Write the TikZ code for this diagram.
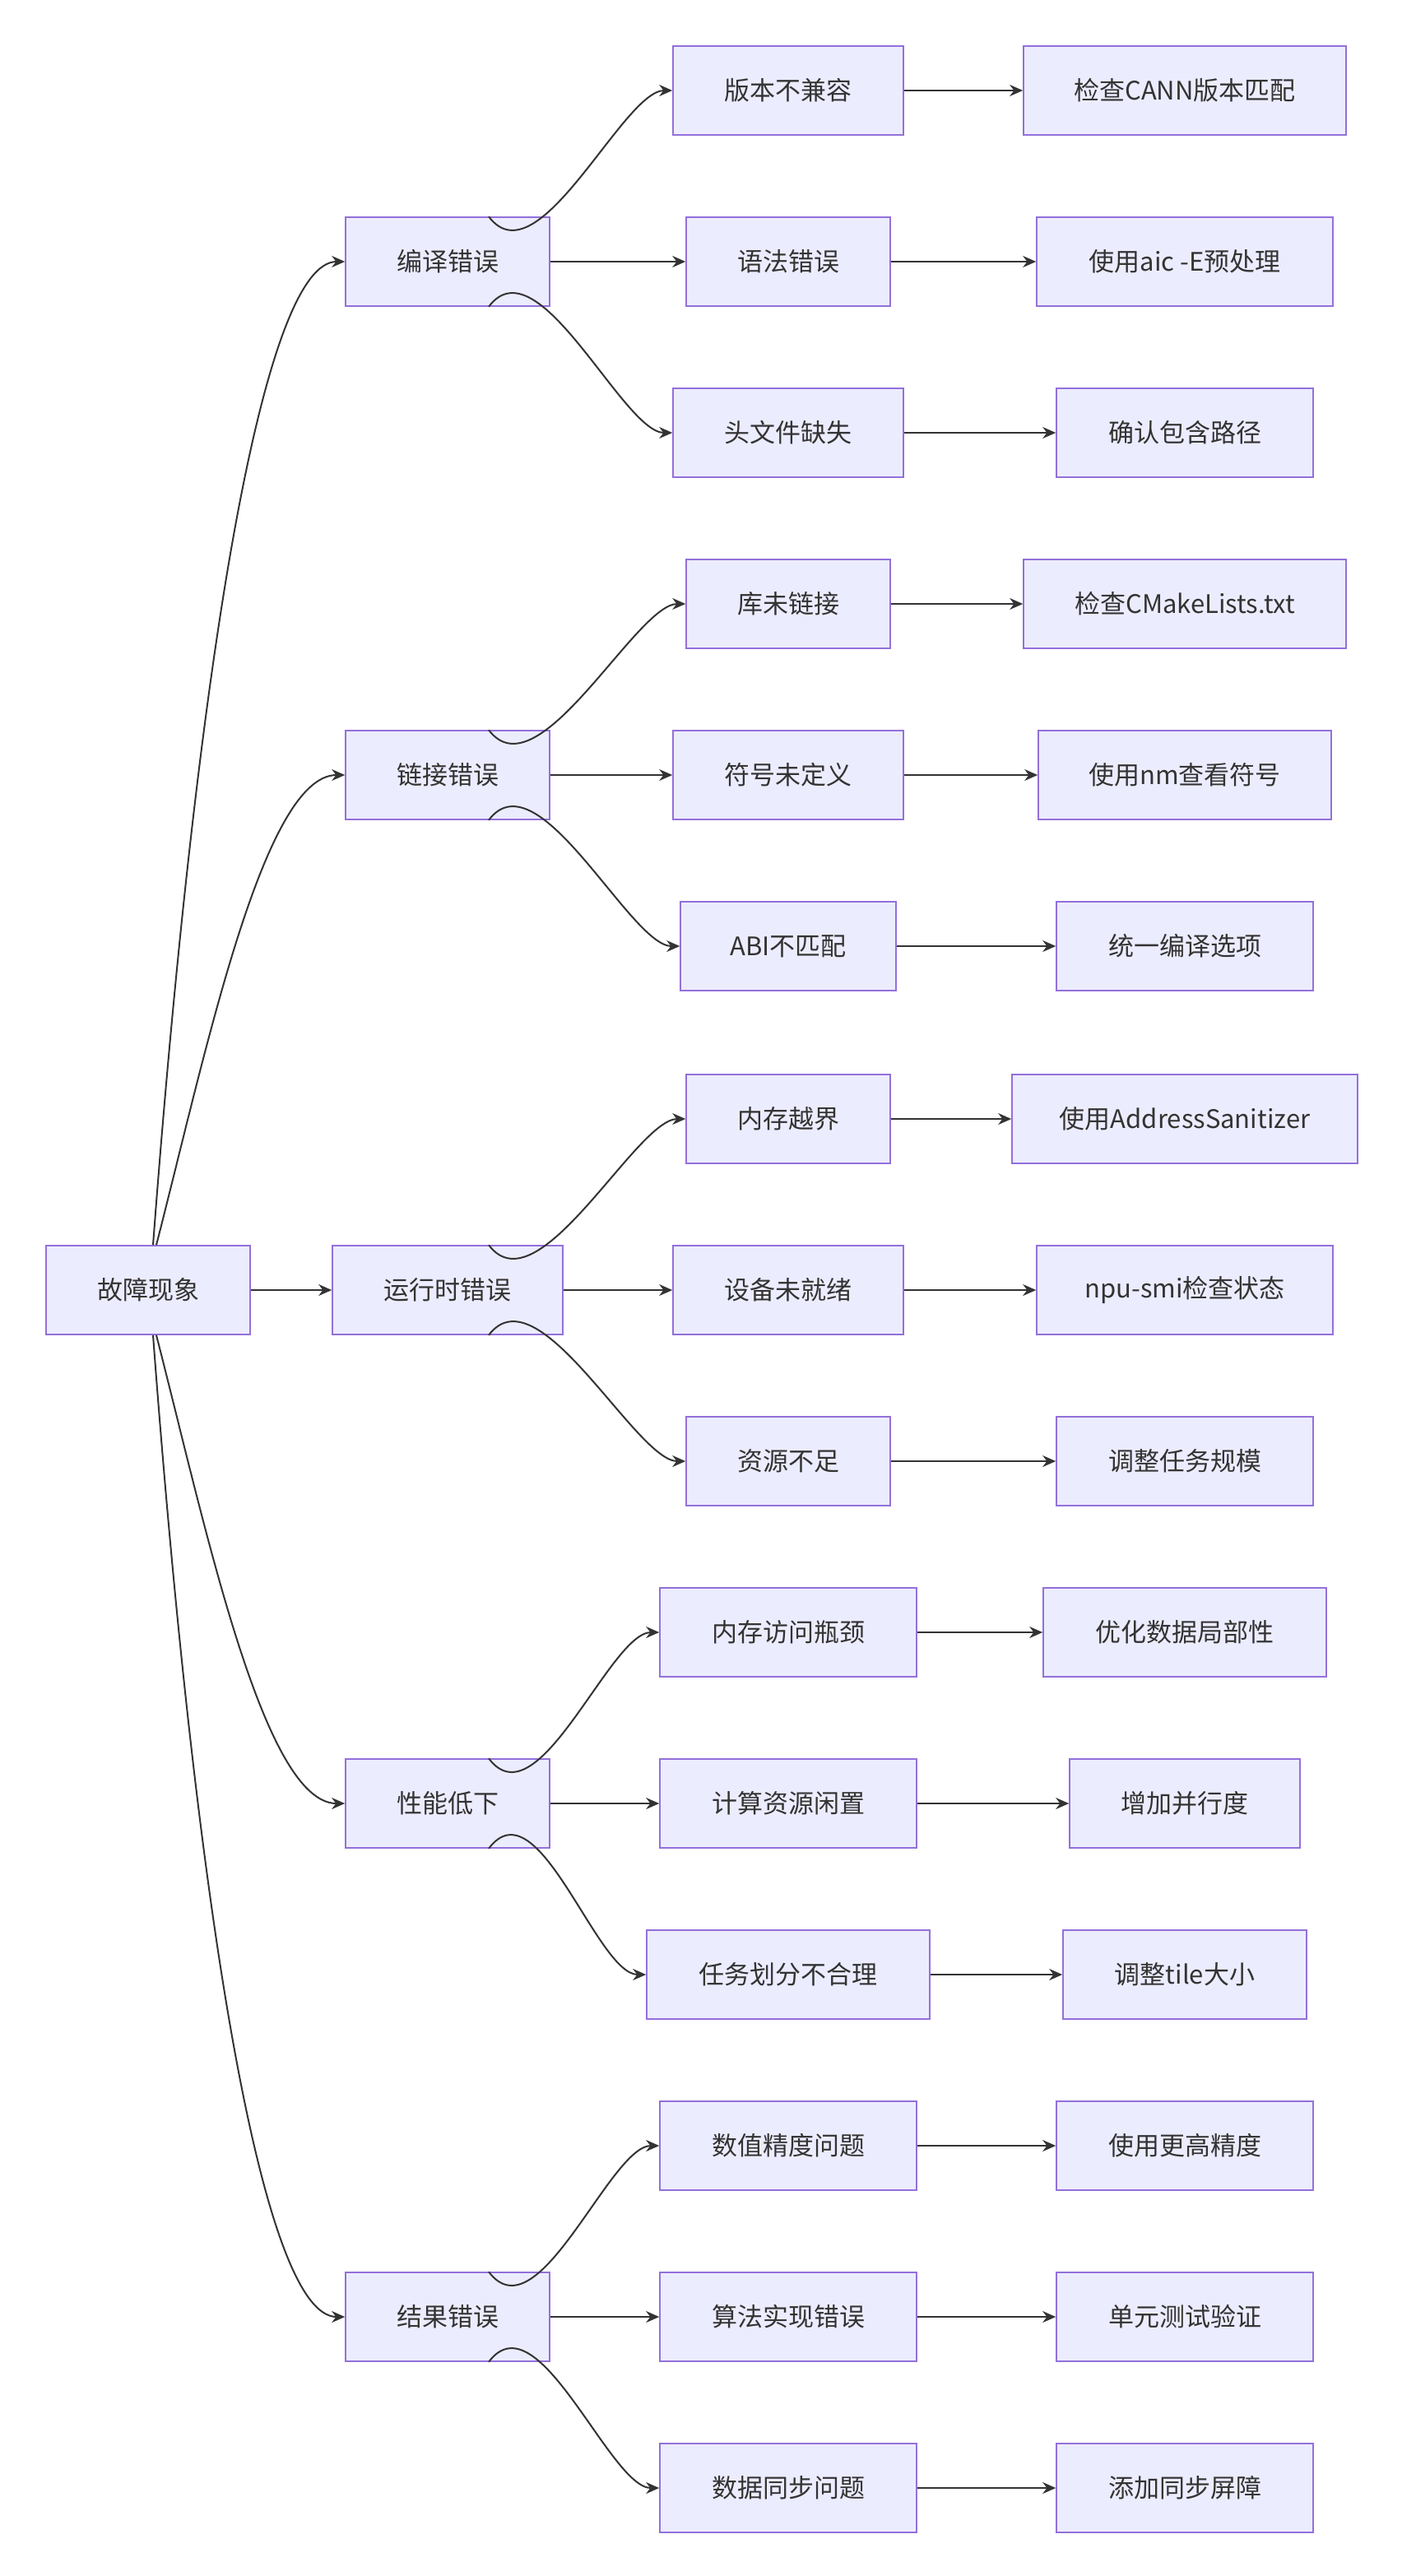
\documentclass[tikz,border=0pt]{standalone}
\usepackage{fontspec}
\setmainfont{Noto Sans CJK SC}
\usetikzlibrary{arrows.meta}
\definecolor{nfill}{HTML}{ECECFF}
\definecolor{nborder}{HTML}{9370DB}
\definecolor{ink}{HTML}{333333}
\begin{document}
\begin{tikzpicture}[x=1pt,y=-1pt,
  box/.style={draw=nborder,fill=nfill,line width=0.8pt,minimum height=54pt,inner sep=0pt,text=ink,font=\fontsize{15.5}{18}\selectfont},
  arr/.style={draw=ink,line width=1pt,-{Stealth[length=8pt,width=7pt]}}]
\useasboundingbox (0,0) rectangle (851.5,1565.5);
% root
\node[box,minimum width=124pt] (r) at (90,784) {故障现象};
% level1
\node[box,minimum width=124pt] (a) at (272,159) {编译错误};
\node[box,minimum width=124pt] (b) at (272,471) {链接错误};
\node[box,minimum width=140pt] (c) at (272,784) {运行时错误};
\node[box,minimum width=124pt] (d) at (272,1096) {性能低下};
\node[box,minimum width=124pt] (e) at (272,1408) {结果错误};
% level2
\node[box,minimum width=140pt] (a1) at (479,55) {版本不兼容};
\node[box,minimum width=124pt] (a2) at (479,159) {语法错误};
\node[box,minimum width=140pt] (a3) at (479,263) {头文件缺失};
\node[box,minimum width=124pt] (b1) at (479,367) {库未链接};
\node[box,minimum width=140pt] (b2) at (479,471) {符号未定义};
\node[box,minimum width=131pt] (b3) at (479,575) {ABI不匹配};
\node[box,minimum width=124pt] (c1) at (479,680) {内存越界};
\node[box,minimum width=140pt] (c2) at (479,784) {设备未就绪};
\node[box,minimum width=124pt] (c3) at (479,888) {资源不足};
\node[box,minimum width=156pt] (d1) at (479,992) {内存访问瓶颈};
\node[box,minimum width=156pt] (d2) at (479,1096) {计算资源闲置};
\node[box,minimum width=172pt] (d3) at (479,1200) {任务划分不合理};
\node[box,minimum width=156pt] (e1) at (479,1304) {数值精度问题};
\node[box,minimum width=156pt] (e2) at (479,1408) {算法实现错误};
\node[box,minimum width=156pt] (e3) at (479,1512) {数据同步问题};
% level3
\node[box,minimum width=196pt] (a1x) at (720,55) {检查CANN版本匹配};
\node[box,minimum width=180pt] (a2x) at (720,159) {使用aic -E预处理};
\node[box,minimum width=156pt] (a3x) at (720,263) {确认包含路径};
\node[box,minimum width=196pt] (b1x) at (720,367) {检查CMakeLists.txt};
\node[box,minimum width=178pt] (b2x) at (720,471) {使用nm查看符号};
\node[box,minimum width=156pt] (b3x) at (720,575) {统一编译选项};
\node[box,minimum width=210pt] (c1x) at (720,680) {使用AddressSanitizer};
\node[box,minimum width=180pt] (c2x) at (720,784) {npu-smi检查状态};
\node[box,minimum width=156pt] (c3x) at (720,888) {调整任务规模};
\node[box,minimum width=172pt] (d1x) at (720,992) {优化数据局部性};
\node[box,minimum width=140pt] (d2x) at (720,1096) {增加并行度};
\node[box,minimum width=148pt] (d3x) at (720,1200) {调整tile大小};
\node[box,minimum width=156pt] (e1x) at (720,1304) {使用更高精度};
\node[box,minimum width=156pt] (e2x) at (720,1408) {单元测试验证};
\node[box,minimum width=156pt] (e3x) at (720,1512) {添加同步屏障};
% root edges
\draw[arr] ([xshift=3pt]r.north) .. controls (120,400) and (160,159) .. (a.west);
\draw[arr] ([xshift=5pt]r.north) .. controls (125,640) and (160,471) .. (b.west);
\draw[arr] (r.east) -- (c.west);
\draw[arr] ([xshift=5pt]r.south) .. controls (125,928) and (160,1096) .. (d.west);
\draw[arr] ([xshift=3pt]r.south) .. controls (120,1170) and (160,1408) .. (e.west);
% level1 -> level2
\foreach \p/\q/\s in {a/a1/a2,b/b1/b2,c/c1/c2,d/d1/d2,e/e1/e2}{
  \draw[arr] ([xshift=25pt]\p.north) .. controls ([xshift=55pt,yshift=-40pt]\p.north) and ([xshift=-30pt]\q.west) .. (\q.west);
  \draw[arr] (\p.east) -- (\s.west);
}
\foreach \p/\q in {a/a3,b/b3,c/c3,d/d3,e/e3}{
  \draw[arr] ([xshift=25pt]\p.south) .. controls ([xshift=55pt,yshift=40pt]\p.south) and ([xshift=-30pt]\q.west) .. (\q.west);
}
% level2 -> level3
\foreach \p in {a1,a2,a3,b1,b2,b3,c1,c2,c3,d1,d2,d3,e1,e2,e3}{
  \draw[arr] (\p.east) -- (\p x.west);
}
\end{tikzpicture}
\end{document}
